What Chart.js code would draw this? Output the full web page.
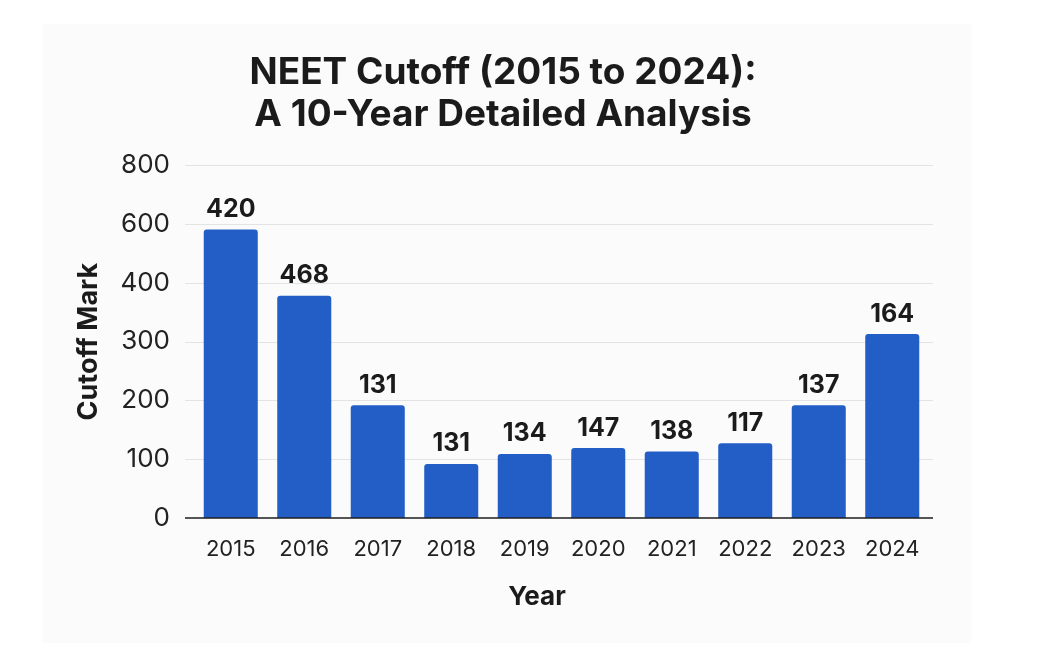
<!DOCTYPE html>
<html>
<head>
<meta charset="utf-8">
<script src="https://cdn.jsdelivr.net/npm/chart.js@4"></script>
<style>
  html, body { margin: 0; padding: 0; background: #ffffff; }
  #wrap { width: 1056px; height: 657px; }
</style>
</head>
<body>
<div id="wrap"><canvas id="c" width="1056" height="657"></canvas></div>
<script>
// ---- data ----
const years = ['2015','2016','2017','2018','2019','2020','2021','2022','2023','2024'];
// bar heights as read against the printed (uneven) axis
const barHeights = [582, 378, 192, 92, 109, 119, 113, 127, 192, 313];
// value labels printed above the bars
const barLabels = [420, 468, 131, 131, 134, 147, 138, 117, 137, 164];
// printed y-axis tick labels (evenly spaced on the axis)
const yTickLabels = [0, 100, 200, 300, 400, 600, 800];

const titleLines = ['NEET Cutoff (2015 to 2024):', 'A 10-Year Detailed Analysis'];
const yTitle = 'Cutoff Mark';
const xTitle = 'Year';

// map a value onto the evenly spaced tick positions of the printed axis
function toAxis(v) {
  for (let i = 0; i < yTickLabels.length - 1; i++) {
    const a = yTickLabels[i], b = yTickLabels[i + 1];
    if (v <= b) return i + (v - a) / (b - a);
  }
  return yTickLabels.length - 1;
}

const FONT = 'Inter, "Noto Sans", "DejaVu Sans", sans-serif';
const TEXT = '#1b1b1b';

const panelPlugin = {
  id: 'panel',
  beforeDraw(chart) {
    const ctx = chart.ctx;
    ctx.save();
    ctx.fillStyle = '#ffffff';
    ctx.fillRect(0, 0, chart.width, chart.height);
    ctx.fillStyle = '#fbfbfb';
    ctx.fillRect(43, 24, 928, 619);
    ctx.restore();
  }
};

const gridPlugin = {
  id: 'customGrid',
  beforeDatasetsDraw(chart) {
    const ctx = chart.ctx;
    const y = chart.scales.y;
    const left = chart.chartArea.left - 9;
    const right = chart.chartArea.right + 4;
    ctx.save();
    ctx.strokeStyle = '#e3e3e3';
    ctx.lineWidth = 1.2;
    for (let i = 1; i < yTickLabels.length; i++) {
      const py = Math.round(y.getPixelForValue(i)) + 0.5;
      ctx.beginPath();
      ctx.moveTo(left, py);
      ctx.lineTo(right, py);
      ctx.stroke();
    }
    ctx.restore();
  },
  afterDatasetsDraw(chart) {
    const ctx = chart.ctx;
    const y = chart.scales.y;
    const left = chart.chartArea.left - 9;
    const right = chart.chartArea.right + 4;
    ctx.save();
    ctx.strokeStyle = '#1e1e1e';
    ctx.lineWidth = 1.6;
    const py = y.getPixelForValue(0);
    ctx.beginPath();
    ctx.moveTo(left, py);
    ctx.lineTo(right, py);
    ctx.stroke();

    // value labels
    const meta = chart.getDatasetMeta(0);
    ctx.fillStyle = TEXT;
    ctx.font = 'bold 25px ' + FONT;
    ctx.textAlign = 'center';
    ctx.textBaseline = 'middle';
    meta.data.forEach((bar, i) => {
      ctx.fillText(String(barLabels[i]), bar.x, bar.y - 20);
    });

    // x-axis title
    ctx.font = 'bold 26px ' + FONT;
    ctx.fillText(xTitle, 537, 597);
    ctx.restore();
  }
};

new Chart(document.getElementById('c'), {
  type: 'bar',
  data: {
    labels: years,
    datasets: [{
      data: barHeights.map(toAxis),
      backgroundColor: '#225ec6',
      borderRadius: 3,
      borderSkipped: 'bottom',
      barPercentage: 0.735,
      categoryPercentage: 1.0
    }]
  },
  options: {
    responsive: false,
    animation: false,
    devicePixelRatio: 1,
    layout: { padding: { left: 77, right: 127, top: 0, bottom: 0 } },
    plugins: {
      legend: { display: false },
      tooltip: { enabled: false },
      title: {
        display: true,
        text: titleLines,
        color: TEXT,
        font: { family: FONT, size: 37, weight: 'bold', lineHeight: 1.14 },
        padding: { top: 52, bottom: 29 }
      }
    },
    scales: {
      x: {
        grid: { display: false },
        border: { display: false },
        ticks: {
          color: '#222222',
          font: { family: FONT, size: 22 },
          padding: 10,
          maxRotation: 0,
          autoSkip: false
        },
        afterFit(s) { s.height = 139; }
      },
      y: {
        min: 0,
        max: yTickLabels.length - 1,
        grid: { display: false },
        border: { display: false },
        ticks: {
          stepSize: 1,
          color: '#222222',
          font: { family: FONT, size: 26 },
          padding: 16,
          callback: (v) => yTickLabels[v]
        },
        title: {
          display: true,
          text: yTitle,
          color: TEXT,
          font: { family: FONT, size: 27, weight: 'bold', lineHeight: 1.0 },
          padding: { top: -2, bottom: 0 }
        },
        afterFit(s) { s.width = 117; }
      }
    }
  },
  plugins: [panelPlugin, gridPlugin]
});
</script>
</body>
</html>
